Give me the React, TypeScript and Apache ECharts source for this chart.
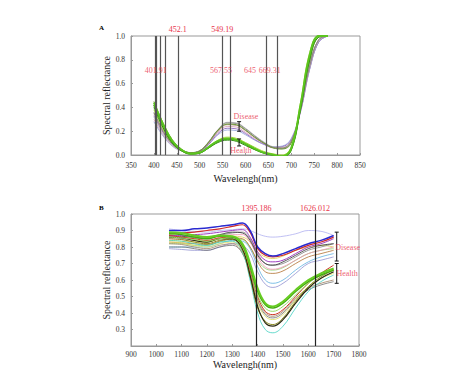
import React, { useEffect, useRef } from "react";
import * as echarts from "echarts";

// ---------- Panel A (visible range) ----------
const waveA = [400, 420, 440, 460, 480, 500, 520, 540, 560, 580, 600, 620, 640, 660, 680, 700, 720, 740, 760, 780];

const healthA1 = [0.44, 0.26, 0.12, 0.045, 0.012, 0.02, 0.07, 0.12, 0.14, 0.13, 0.095, 0.055, 0.02, 0.003, -0.01, 0.06, 0.42, 0.84, 1.0, 1.0];
const healthA2 = [0.42, 0.25, 0.11, 0.04, 0.01, 0.018, 0.065, 0.115, 0.135, 0.125, 0.09, 0.05, 0.018, 0.0, -0.015, 0.05, 0.4, 0.82, 1.0, 1.0];
const healthA3 = [0.4, 0.23, 0.1, 0.035, 0.008, 0.015, 0.06, 0.105, 0.125, 0.115, 0.08, 0.045, 0.015, -0.005, -0.02, 0.04, 0.38, 0.8, 0.99, 1.0];
const healthA4 = [0.38, 0.22, 0.1, 0.04, 0.012, 0.02, 0.07, 0.125, 0.15, 0.14, 0.105, 0.065, 0.03, 0.01, 0.0, 0.07, 0.44, 0.86, 1.0, 1.0];
const healthA5 = [0.45, 0.27, 0.13, 0.05, 0.015, 0.022, 0.072, 0.118, 0.138, 0.128, 0.092, 0.052, 0.02, 0.002, -0.012, 0.055, 0.41, 0.83, 1.0, 1.0];

const diseaseA1 = [0.36, 0.21, 0.1, 0.045, 0.02, 0.035, 0.11, 0.21, 0.27, 0.265, 0.22, 0.16, 0.105, 0.065, 0.055, 0.11, 0.38, 0.76, 0.97, 1.0];
const diseaseA2 = [0.33, 0.19, 0.09, 0.04, 0.02, 0.03, 0.09, 0.18, 0.225, 0.22, 0.18, 0.13, 0.09, 0.065, 0.07, 0.13, 0.36, 0.72, 0.95, 1.0];
const diseaseA3 = [0.3, 0.17, 0.08, 0.035, 0.015, 0.03, 0.1, 0.19, 0.24, 0.235, 0.19, 0.14, 0.095, 0.06, 0.06, 0.12, 0.37, 0.74, 0.96, 1.0];
const diseaseA4 = [0.35, 0.2, 0.095, 0.04, 0.018, 0.032, 0.105, 0.2, 0.255, 0.25, 0.205, 0.15, 0.1, 0.062, 0.058, 0.115, 0.38, 0.75, 0.97, 1.0];
const diseaseA5 = [0.32, 0.18, 0.085, 0.038, 0.018, 0.035, 0.115, 0.215, 0.275, 0.27, 0.225, 0.165, 0.11, 0.07, 0.065, 0.12, 0.37, 0.73, 0.96, 1.0];
const diseaseA6 = [0.28, 0.16, 0.075, 0.035, 0.02, 0.035, 0.095, 0.17, 0.21, 0.205, 0.17, 0.125, 0.09, 0.07, 0.075, 0.14, 0.37, 0.72, 0.95, 1.0];
const diseaseA7 = [0.42, 0.25, 0.11, 0.045, 0.02, 0.035, 0.11, 0.21, 0.26, 0.255, 0.21, 0.15, 0.1, 0.06, 0.05, 0.1, 0.4, 0.79, 0.99, 1.0];

const curvesA = [
  { v: diseaseA6, c: "#8f9fd8", w: 0.8 },
  { v: diseaseA3, c: "#d79ab0", w: 0.8 },
  { v: diseaseA2, c: "#9a78c8", w: 1 },
  { v: diseaseA5, c: "#b8b8b8", w: 0.8 },
  { v: diseaseA4, c: "#8b6a4a", w: 0.8 },
  { v: diseaseA1, c: "#8c8c8c", w: 1 },
  { v: diseaseA7, c: "#6f9a3a", w: 1 },
  { v: healthA4, c: "#a8d838", w: 1 },
  { v: healthA3, c: "#2e8a10", w: 1 },
  { v: healthA5, c: "#7aa030", w: 1 },
  { v: healthA2, c: "#3fa312", w: 1.5 },
  { v: healthA1, c: "#5cc520", w: 1.8 },
];

const bandLinesA = [401.91, 406, 413, 425, 452.1, 549.19, 567.55, 645, 669.31];
const topLabelsA = ["452.1", "549.19"];
const innerLabelsA = [
  { name: "401.91", pos: [404, 0.71] },
  { name: "567.55", pos: [546.5, 0.71] },
  { name: "645", pos: [610, 0.71] },
  { name: "669.31", pos: [653, 0.71] },
];
const bracketsA = [
  { name: "Disease", range: [[586, 0.2], [586, 0.28]], text: [601, 0.32] },
  { name: "Health", range: [[586, 0.076], [586, 0.135]], text: [590, 0.034] },
];

// ---------- Panel B (NIR range) ----------
const waveB = [1050, 1100, 1150, 1200, 1250, 1300, 1340, 1370, 1400, 1430, 1460, 1500, 1550, 1600, 1650, 1700];

const diseaseB1 = [0.9, 0.9, 0.91, 0.915, 0.925, 0.935, 0.945, 0.9, 0.8, 0.76, 0.745, 0.76, 0.79, 0.82, 0.84, 0.87];
const diseaseB2 = [0.88, 0.885, 0.89, 0.9, 0.91, 0.925, 0.935, 0.89, 0.79, 0.75, 0.74, 0.75, 0.78, 0.81, 0.83, 0.86];
const diseaseB3 = [0.91, 0.9, 0.895, 0.89, 0.9, 0.905, 0.91, 0.9, 0.88, 0.865, 0.86, 0.865, 0.88, 0.9, 0.895, 0.87];
const diseaseB4 = [0.87, 0.87, 0.875, 0.88, 0.89, 0.9, 0.905, 0.86, 0.77, 0.72, 0.71, 0.72, 0.76, 0.8, 0.82, 0.85];
const diseaseB5 = [0.86, 0.855, 0.85, 0.85, 0.87, 0.885, 0.89, 0.85, 0.76, 0.7, 0.69, 0.7, 0.74, 0.78, 0.8, 0.82];
const diseaseB6 = [0.85, 0.845, 0.84, 0.84, 0.86, 0.875, 0.875, 0.83, 0.74, 0.68, 0.665, 0.68, 0.72, 0.76, 0.78, 0.8];
const diseaseB7 = [0.84, 0.835, 0.83, 0.83, 0.85, 0.865, 0.86, 0.83, 0.77, 0.74, 0.73, 0.745, 0.78, 0.8, 0.81, 0.8];
const diseaseB8 = [0.83, 0.825, 0.82, 0.815, 0.835, 0.855, 0.85, 0.8, 0.71, 0.65, 0.64, 0.655, 0.7, 0.74, 0.76, 0.78];
const diseaseB9 = [0.8, 0.8, 0.8, 0.8, 0.82, 0.84, 0.835, 0.79, 0.68, 0.6, 0.58, 0.6, 0.66, 0.71, 0.74, 0.76];
const diseaseB10 = [0.79, 0.785, 0.78, 0.78, 0.8, 0.82, 0.81, 0.76, 0.65, 0.575, 0.555, 0.58, 0.64, 0.7, 0.72, 0.74];
const diseaseB11 = [0.82, 0.82, 0.81, 0.81, 0.83, 0.85, 0.845, 0.8, 0.72, 0.67, 0.66, 0.675, 0.72, 0.76, 0.78, 0.79];
const diseaseB12 = [0.87, 0.865, 0.86, 0.86, 0.875, 0.89, 0.885, 0.84, 0.75, 0.7, 0.69, 0.71, 0.75, 0.79, 0.81, 0.82];

const healthB1 = [0.89, 0.885, 0.87, 0.86, 0.87, 0.865, 0.82, 0.7, 0.55, 0.46, 0.44, 0.47, 0.54, 0.6, 0.64, 0.67];
const healthB2 = [0.88, 0.875, 0.86, 0.85, 0.865, 0.86, 0.81, 0.68, 0.53, 0.45, 0.43, 0.46, 0.53, 0.59, 0.63, 0.66];
const healthB3 = [0.86, 0.855, 0.84, 0.83, 0.85, 0.85, 0.79, 0.63, 0.44, 0.34, 0.32, 0.36, 0.46, 0.55, 0.61, 0.65];
const healthB4 = [0.84, 0.835, 0.82, 0.81, 0.83, 0.835, 0.77, 0.6, 0.4, 0.3, 0.28, 0.32, 0.43, 0.53, 0.59, 0.63];
const healthB5 = [0.85, 0.845, 0.83, 0.82, 0.84, 0.845, 0.78, 0.62, 0.43, 0.35, 0.33, 0.37, 0.47, 0.56, 0.62, 0.66];
const healthB6 = [0.87, 0.86, 0.85, 0.84, 0.855, 0.86, 0.8, 0.66, 0.5, 0.41, 0.39, 0.42, 0.5, 0.58, 0.64, 0.69];
const healthB7 = [0.83, 0.825, 0.81, 0.8, 0.82, 0.83, 0.775, 0.63, 0.46, 0.38, 0.36, 0.39, 0.48, 0.56, 0.61, 0.64];
const healthB8 = [0.86, 0.855, 0.845, 0.835, 0.85, 0.855, 0.8, 0.67, 0.51, 0.43, 0.41, 0.44, 0.51, 0.58, 0.63, 0.66];
const healthB9 = [0.82, 0.815, 0.8, 0.79, 0.81, 0.82, 0.765, 0.64, 0.48, 0.4, 0.38, 0.41, 0.49, 0.55, 0.58, 0.6];
const healthB10 = [0.8, 0.8, 0.79, 0.78, 0.8, 0.81, 0.76, 0.62, 0.47, 0.39, 0.37, 0.4, 0.48, 0.54, 0.57, 0.59];

const curvesB = [
  { v: diseaseB3, c: "#b0b0f0", w: 0.8 },
  { v: diseaseB10, c: "#9090d0", w: 0.8 },
  { v: diseaseB9, c: "#60b0e0", w: 0.8 },
  { v: diseaseB7, c: "#e0d050", w: 0.8 },
  { v: diseaseB11, c: "#90d070", w: 0.8 },
  { v: diseaseB8, c: "#b07030", w: 0.8 },
  { v: diseaseB6, c: "#f090b0", w: 0.8 },
  { v: diseaseB5, c: "#808080", w: 0.8 },
  { v: diseaseB12, c: "#303030", w: 0.8 },
  { v: diseaseB4, c: "#a040c0", w: 1 },
  { v: diseaseB2, c: "#d02a2a", w: 1.2 },
  { v: diseaseB1, c: "#2a2ad0", w: 1.5 },
  { v: healthB10, c: "#707070", w: 0.8 },
  { v: healthB9, c: "#a08060", w: 0.8 },
  { v: healthB7, c: "#e0e060", w: 0.8 },
  { v: healthB4, c: "#40d0c0", w: 0.8 },
  { v: healthB5, c: "#8a8a20", w: 1 },
  { v: healthB3, c: "#2a2a10", w: 1.2 },
  { v: healthB6, c: "#cc3322", w: 1 },
  { v: healthB8, c: "#99dd66", w: 1 },
  { v: healthB2, c: "#44aa11", w: 1.5 },
  { v: healthB1, c: "#66cc22", w: 2 },
];

const bandLinesB = [1395.186, 1626.012];
const bracketsB = [
  { name: "Disease", range: [[1712, 0.715], [1712, 0.89]], text: [1755, 0.796] },
  { name: "Health", range: [[1712, 0.58], [1712, 0.7]], text: [1753, 0.64] },
];

const FONT = "'Liberation Serif', 'Times New Roman', serif";
const RED = "#e8334a";
const TICK_SIZE = 7.5;
const NOTE_SIZE = 8;

function curveSeries(waves: number[], curves: { v: number[]; c: string; w: number }[], idx: number) {
  return curves.map((cv) => ({
    type: "line",
    xAxisIndex: idx,
    yAxisIndex: idx,
    data: waves.map((w, i) => [w, cv.v[i]]),
    smooth: 0.4,
    showSymbol: false,
    symbol: "none",
    silent: true,
    clip: true,
    lineStyle: { color: cv.c, width: cv.w },
    itemStyle: { color: cv.c },
  }));
}

function bracketSeries(items: { name: string; range: number[][]; text: number[] }[], idx: number) {
  const out: any[] = [];
  items.forEach((b) => {
    out.push({
      type: "line",
      xAxisIndex: idx,
      yAxisIndex: idx,
      data: b.range,
      symbol: "rect",
      symbolSize: [4, 1],
      showSymbol: true,
      silent: true,
      z: 5,
      lineStyle: { color: "#111", width: 1 },
      itemStyle: { color: "#111" },
    });
  });
  out.push({
    type: "scatter",
    xAxisIndex: idx,
    yAxisIndex: idx,
    symbolSize: 1,
    silent: true,
    z: 6,
    itemStyle: { color: "rgba(0,0,0,0)" },
    label: {
      show: true,
      position: "inside",
      formatter: (p: any) => p.name,
      color: RED,
      fontSize: NOTE_SIZE,
      fontFamily: FONT,
    },
    data: items.map((b) => ({ name: b.name, value: b.text })),
  });
  return out;
}

function axisCommon() {
  return {
    type: "value",
    axisLine: { show: true, lineStyle: { color: "#999", width: 1 } },
    axisTick: { show: true, inside: true, length: 2, lineStyle: { color: "#999" } },
    splitLine: { show: false },
    nameTextStyle: { fontSize: 10, fontFamily: FONT, color: "#222" },
  };
}

export default function App() {
  const ref = useRef<HTMLDivElement>(null);
  useEffect(() => {
    if (!ref.current) return;
    const chart = echarts.init(ref.current, null, { renderer: "svg" });
    const option: any = {
      animation: false,
      backgroundColor: "#fff",
      textStyle: { fontFamily: FONT },
      grid: [
        { left: 131, top: 36, width: 229, height: 119, show: true, borderColor: "#999", borderWidth: 1 },
        { left: 131, top: 214, width: 228, height: 132, show: true, borderColor: "#999", borderWidth: 1 },
      ],
      xAxis: [
        {
          ...axisCommon(),
          gridIndex: 0,
          min: 350,
          max: 850,
          interval: 50,
          name: "Wavelengh(nm)",
          nameLocation: "middle",
          nameGap: 18,
          axisLabel: { fontSize: TICK_SIZE, color: "#333", margin: 6, fontFamily: FONT, formatter: (v: number) => String(v) },
        },
        {
          ...axisCommon(),
          gridIndex: 1,
          min: 900,
          max: 1800,
          interval: 100,
          name: "Wavelengh(nm)",
          nameLocation: "middle",
          nameGap: 13,
          axisLabel: { fontSize: TICK_SIZE, color: "#333", margin: 4, fontFamily: FONT, formatter: (v: number) => String(v) },
        },
      ],
      yAxis: [
        {
          ...axisCommon(),
          gridIndex: 0,
          min: 0,
          max: 1,
          interval: 0.2,
          name: "Spectral reflectance",
          nameLocation: "middle",
          nameGap: 19,
          axisLabel: { fontSize: TICK_SIZE, color: "#333", margin: 6, fontFamily: FONT, formatter: (v: number) => v.toFixed(1) },
        },
        {
          ...axisCommon(),
          gridIndex: 1,
          min: 0.2,
          max: 1,
          interval: 0.1,
          name: "Spectral reflectance",
          nameLocation: "middle",
          nameGap: 19,
          axisLabel: { fontSize: TICK_SIZE, color: "#333", margin: 6, fontFamily: FONT, showMinLabel: false, formatter: (v: number) => v.toFixed(1) },
        },
      ],
      graphic: [
        { type: "text", left: 99, top: 24, style: { text: "A", font: "bold 7px " + FONT, fill: "#000" } },
        { type: "text", left: 99, top: 204, style: { text: "B", font: "bold 7px " + FONT, fill: "#000" } },
      ],
      series: [
        ...curveSeries(waveA, curvesA, 0),
        {
          type: "line",
          xAxisIndex: 0,
          yAxisIndex: 0,
          data: [],
          silent: true,
          z: 4,
          markLine: {
            silent: true,
            symbol: "none",
            animation: false,
            lineStyle: { color: "#555", width: 1.2, type: "solid" },
            data: bandLinesA.map((x) => {
              const lbl = String(x);
              const isTop = topLabelsA.indexOf(lbl) >= 0;
              return {
                xAxis: x,
                label: isTop
                  ? { show: true, position: "end", formatter: lbl, color: RED, fontSize: NOTE_SIZE, fontFamily: FONT, distance: 3 }
                  : { show: false },
              };
            }),
          },
        },
        {
          type: "scatter",
          xAxisIndex: 0,
          yAxisIndex: 0,
          symbolSize: 1,
          silent: true,
          z: 6,
          itemStyle: { color: "rgba(0,0,0,0)" },
          label: { show: true, position: "inside", formatter: (p: any) => p.name, color: RED, fontSize: NOTE_SIZE, fontFamily: FONT },
          data: innerLabelsA.map((l) => ({ name: l.name, value: l.pos })),
        },
        ...bracketSeries(bracketsA, 0),
        ...curveSeries(waveB, curvesB, 1),
        {
          type: "line",
          xAxisIndex: 1,
          yAxisIndex: 1,
          data: [],
          silent: true,
          z: 4,
          markLine: {
            silent: true,
            symbol: "none",
            animation: false,
            lineStyle: { color: "#222", width: 1.2, type: "solid" },
            data: bandLinesB.map((x) => ({
              xAxis: x,
              label: { show: true, position: "end", formatter: x.toFixed(3), color: RED, fontSize: NOTE_SIZE, fontFamily: FONT, distance: 2 },
            })),
          },
        },
        ...bracketSeries(bracketsB, 1),
      ],
    };
    chart.setOption(option);
    return () => chart.dispose();
  }, []);
  return (
    <div
      ref={ref}
      style={{ position: "fixed", left: 0, top: 0, width: 474, height: 375, background: "#fff" }}
    />
  );
}
